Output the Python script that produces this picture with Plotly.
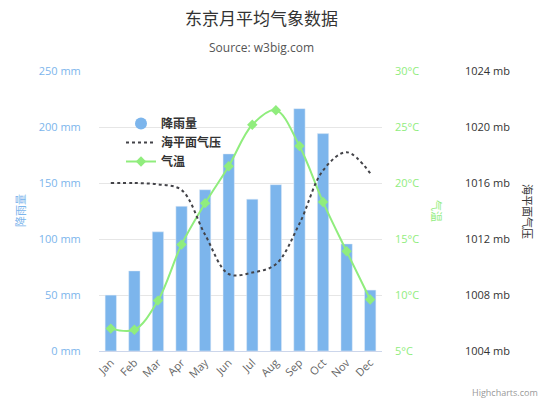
import plotly.graph_objects as go

# Data (Tokyo monthly averages)
months = ['Jan', 'Feb', 'Mar', 'Apr', 'May', 'Jun',
          'Jul', 'Aug', 'Sep', 'Oct', 'Nov', 'Dec']
rainfall = [49.9, 71.5, 106.4, 129.2, 144.0, 176.0,
            135.6, 148.5, 216.4, 194.1, 95.6, 54.4]
pressure = [1016, 1016, 1015.9, 1015.5, 1012.3, 1009.5,
            1009.6, 1010.2, 1013.1, 1016.9, 1018.2, 1016.7]
temperature = [7.0, 6.9, 9.5, 14.5, 18.2, 21.5,
               25.2, 26.5, 23.3, 18.3, 13.9, 9.6]

# page body has an 8px margin, so the figure is a bit smaller than the window
W, H = 543, 392
TOP, BOTTOM = 63, 343          # plot area in figure pixels
LEFT, RIGHT = 91, 374
FONT = "Open Sans, Noto Sans CJK SC, sans-serif"
BLUE = '#7cb5ec'
GREEN = '#90ed7d'
DARK = '#434348'


def px(x):
    return x / W


def py(y):
    return (BOTTOM - y) / (BOTTOM - TOP)


fig = go.Figure()

fig.add_trace(go.Bar(x=months, y=rainfall, name='降雨量', marker_color=BLUE,
                     showlegend=False, legendgroup='rain', yaxis='y'))
# legend entry with round symbol like the original
fig.add_trace(go.Scatter(x=[None], y=[None], mode='markers', name='降雨量',
                         marker=dict(color=BLUE, size=12, symbol='circle'),
                         legendgroup='rain', yaxis='y'))
fig.add_trace(go.Scatter(x=months, y=pressure, name='海平面气压', mode='lines',
                         line=dict(color=DARK, width=2, dash='dot', shape='spline'),
                         yaxis='y3'))
fig.add_trace(go.Scatter(x=months, y=temperature, name='气温', mode='lines+markers',
                         line=dict(color=GREEN, width=2, shape='spline'),
                         marker=dict(symbol='diamond', size=8, color=GREEN),
                         yaxis='y2'))

fig.update_layout(
    width=W, height=H,
    margin=dict(l=0, r=0, t=TOP, b=H - BOTTOM),
    paper_bgcolor='white', plot_bgcolor='white',
    font=dict(family=FONT, size=11, color='#666666'),
    bargap=0.52,
    xaxis=dict(domain=[px(LEFT), px(RIGHT)], range=[-0.5, len(months) - 0.5],
               tickangle=-45, showgrid=False,
               showline=True, linecolor='#ccd6eb', linewidth=1,
               ticks='', tickfont=dict(size=11, color='#666666'), automargin=False),
    yaxis=dict(range=[0, 250], tick0=0, dtick=50,
               ticksuffix=' mm', showgrid=True, gridcolor='#e6e6e6',
               zeroline=False, ticks='outside', ticklen=15, tickcolor='rgba(0,0,0,0)',
               tickfont=dict(size=11, color=BLUE), automargin=False),
    yaxis2=dict(range=[5, 30], tick0=5, dtick=5, ticksuffix='°C', overlaying='y',
                side='right', anchor='free', position=px(386),
                showgrid=False, zeroline=False, ticks='',
                tickfont=dict(size=11, color=GREEN), automargin=False),
    yaxis3=dict(range=[1004, 1024], tick0=1004, dtick=4, ticksuffix=' mb', overlaying='y',
                side='right', anchor='free', position=px(456),
                showgrid=False, zeroline=False, ticks='',
                tickfont=dict(size=11, color='#333333'), automargin=False),
    legend=dict(x=px(113), y=py(101), xanchor='left', yanchor='top',
                bgcolor='rgba(255,255,255,0)',
                font=dict(size=12, color='#333333', weight='bold'),
                tracegroupgap=0, itemwidth=30),
    annotations=[
        dict(text='东京月平均气象数据', x=px(253), y=py(10), xref='paper', yref='paper',
             xanchor='center', yanchor='middle', showarrow=False,
             font=dict(size=17, color='#333333')),
        dict(text='Source: w3big.com', x=px(253), y=py(39), xref='paper', yref='paper',
             xanchor='center', yanchor='middle', showarrow=False,
             font=dict(size=12, color='#555555')),
        dict(text='降雨量', x=px(12), y=0.5, xref='paper', yref='paper',
             xanchor='center', yanchor='middle', showarrow=False, textangle=-90,
             font=dict(size=11, color=BLUE)),
        dict(text='气温', x=px(429), y=0.5, xref='paper', yref='paper',
             xanchor='center', yanchor='middle', showarrow=False, textangle=90,
             font=dict(size=11, color=GREEN)),
        dict(text='海平面气压', x=px(520), y=0.5, xref='paper', yref='paper',
             xanchor='center', yanchor='middle', showarrow=False, textangle=90,
             font=dict(size=11, color='#333333')),
        dict(text='Highcharts.com', x=px(532), y=py(384), xref='paper', yref='paper',
             xanchor='right', yanchor='middle', showarrow=False,
             font=dict(size=9, color='#999999')),
    ],
)

fig.write_html("out.html")
